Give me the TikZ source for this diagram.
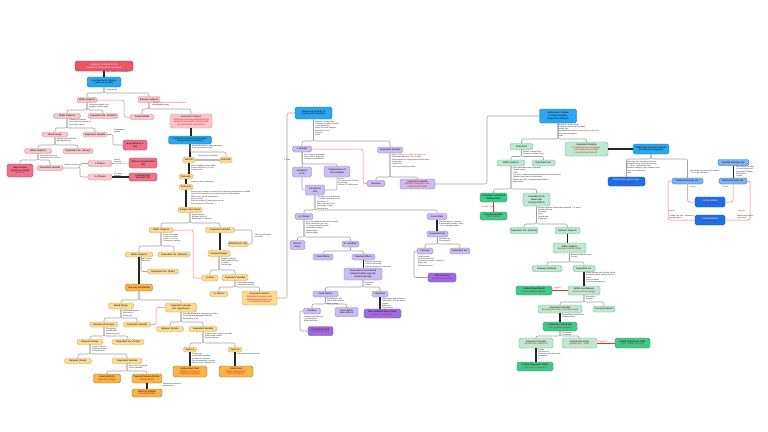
\documentclass[tikz,border=0pt]{standalone}
\usepackage{fontspec}
\setmainfont{Liberation Sans}
\usetikzlibrary{calc}
\definecolor{pkL}{HTML}{F9C6CB}
\definecolor{pkB}{HTML}{C98890}
\definecolor{pkD}{HTML}{F0708A}
\definecolor{rdT}{HTML}{EE5468}
\definecolor{rdB}{HTML}{B03040}
\definecolor{blT}{HTML}{2AA7EE}
\definecolor{blB}{HTML}{1A70B0}
\definecolor{yeL}{HTML}{FDDA92}
\definecolor{yeB}{HTML}{C8A055}
\definecolor{orD}{HTML}{F8B445}
\definecolor{puL}{HTML}{CBBDF2}
\definecolor{puB}{HTML}{8A78C0}
\definecolor{puD}{HTML}{9C6CE8}
\definecolor{grL}{HTML}{BDE9D3}
\definecolor{grB}{HTML}{6AAA88}
\definecolor{grD}{HTML}{3DCB8C}
\definecolor{bsL}{HTML}{82B2F2}
\definecolor{bsD}{HTML}{1C6FEA}
\definecolor{lnC}{HTML}{A0A0A0}
\newcommand\fs{\fontsize{2.3}{2.7}\selectfont}
\newcommand\fa{\fontsize{1.9}{2.3}\selectfont}
\newcommand\rt[1]{\textcolor{red}{#1}}
\tikzset{
 bx/.style={draw, rounded corners=1.6pt, line width=0.45pt, inner sep=0.4pt, align=center, font=\fs, text=black},
 pk/.style={bx, fill=pkL, draw=pkB},
 pkd/.style={bx, fill=pkD, draw=rdB},
 ttl/.style={bx, fill=rdT, draw=rdB, text=white},
 blu/.style={bx, fill=blT, draw=blB},
 ye/.style={bx, fill=yeL, draw=yeB},
 orb/.style={bx, fill=orD, draw=yeB!70!black},
 pu/.style={bx, fill=puL, draw=puB},
 pud/.style={bx, fill=puD, draw=puB!70!black},
 gr/.style={bx, fill=grL, draw=grB},
 grd/.style={bx, fill=grD, draw=grB!70!black},
 bs/.style={bx, fill=bsL, draw=blB},
 bsd/.style={bx, fill=bsD, draw=blB!70!black, text=white},
 conn/.style={draw=lnC, line width=0.55pt, rounded corners=2pt},
 thk/.style={draw=black!85, line width=1.1pt},
 rln/.style={draw=red!55, line width=0.5pt, rounded corners=2pt},
 rthk/.style={draw=red!85, line width=1pt},
 ann/.style={font=\fa, align=left, anchor=north west, inner sep=0pt, text=black!85},
}
\newcommand\B[7]{\node[#6, minimum width=#4pt, minimum height=#5pt] (#1) at (#2,#3) {#7};}
\newcommand\tr[3]{\draw[conn] (#1.south) |- (#2.north |- 0,#3) -- (#2.north);}
\newcommand\tk[2]{\draw[thk] (#1.south) -- (#1.south |- #2.north);}
\newcommand\an[4]{\node[ann] (#1) at (#2,#3) {#4};}
\begin{document}
\begin{tikzpicture}[x=1pt,y=-1pt]
\useasboundingbox[fill=white] (0,0) rectangle (768,431);
% ---------------- PINK ----------------
\B{T}{104}{66}{58}{10}{ttl}{Statistical Analysis for the\\Evaluation of Research Outcomes}
\B{B0}{104}{82}{34}{10}{blu}{Non-Parametric Analysis\\(data not normal)}
\B{P1}{87}{100}{20}{5}{pk}{Within Subjects}
\B{P2}{149}{99.5}{22}{6}{pk}{Between Subjects}
\B{P3}{142}{117}{24}{5}{pk}{Kruskal-Wallis}
\B{P4}{191}{121}{42}{14}{pk}{Parametric Analysis\\\rt{If data are normally distributed and}\\\rt{variances are equal, continue with}\\\rt{the parametric tests below}}
\B{P5}{67}{116}{27}{5}{pk}{Within Subjects}
\B{P6}{103}{116}{30}{5}{pk}{Dependent Var. (Ordinal)}
\B{P7}{55}{134.5}{26}{5}{pk}{Mixed Design}
\B{P8}{95}{134.5}{24}{5}{pk}{Dependent Variable}
\B{P9}{135}{145}{24}{10}{pkd}{Mann-Whitney U\\Test}
\B{P10}{38}{151}{27}{5}{pk}{Within Subjects}
\B{P11}{78}{151}{30}{5}{pk}{Dependent Var. (Binary)}
\B{P12}{20}{170.5}{26}{13}{pkd}{Aligned Rank\\Transform ANOVA\\\rt{(ARTool)}}
\B{P13}{50}{168}{26}{5}{pk}{Dependent Variable}
\B{P14}{100}{163.5}{24}{6}{pk}{2 Phases}
\B{P15}{100}{177}{24}{6}{pk}{3+ Phases}
\B{P16}{143}{163}{28}{10}{pkd}{Wilcoxon Signed-Rank\\Test}
\B{P17}{143}{177}{28}{8}{pkd}{Friedman Test\\(Kendall's W)}
\draw[thk] (T.south) -- (B0.north);
\tr{B0}{P1}{93}\tr{B0}{P2}{93}
\tr{P1}{P5}{110}\tr{P1}{P6}{110}
\tr{P2}{P3}{109}\tr{P2}{P4}{109}
\draw[rln] (P1.east) -- (124,100) |- (P3.west);
\tr{P5}{P7}{128}\tr{P5}{P8}{128}
\draw[conn] (P8.east) -- (113,134.5) |- (P9.west);
\tr{P7}{P10}{145}\tr{P7}{P11}{145}
\tr{P10}{P12}{160}\tr{P10}{P13}{160}
\coordinate (j1) at (80,168);
\draw[conn] (P13.east) -- (j1) |- (P14.west);
\draw[conn] (j1) |- (P15.west);
\draw[conn] (P14.east) -- (P16.west);
\draw[thk] (P15.east) -- (P17.west);
\an{a1}{106}{71}{Non-normal or ordinal data}
\an{a2}{106}{88.5}{Study design}
\an{a3}{89}{103.5}{Same participants in all\\conditions of the study}
\an{a4}{153}{101.8}{\rt{Ordinal data or non-normal distribution}}
\an{a5}{152}{104.2}{Independent groups}
\an{a6}{69}{119}{Compare conditions\\Also check the number of\\levels of the factor}
\an{a7}{114}{128.5}{Independent\\groups}
\an{a8}{57}{137.5}{Design has within and\\between factors}
\an{a9}{40}{154.5}{Repeated measures\\Dependent var. ordinal}
\an{a10}{64}{163.5}{Number of phases}
\an{a11}{114}{158.5}{Paired\\samples}
\an{a12}{114}{172.5}{3 or more\\samples}
% ---------------- ORANGE ----------------
\B{B1}{190}{140}{43}{8}{blu}{Parametric Analysis (normal data,\\homogeneous variances)}
\B{Y1}{189}{160}{12}{6}{ye}{ANOVA}
\B{Y2}{226}{160}{12}{6}{ye}{ANCOVA}
\B{Y3}{186}{176.5}{14}{5}{ye}{Normality}
\B{Y4}{186}{187}{14}{5}{ye}{Sphericity}
\B{Y5}{190}{210}{24}{5}{ye}{Sample Size Check}
\B{Y6}{161}{230}{24}{5}{ye}{Within Subjects}
\B{Y7}{220}{230}{29}{5}{ye}{Dependent Variable}
\B{Y8}{238}{244}{20}{5}{ye}{MANOVA (2+ DV)}
\B{Y9}{219}{253.5}{22}{6}{ye}{Factorial Design}
\B{Y10}{210}{278}{16}{6}{ye}{1 Factor}
\B{Y11}{235}{277.5}{26}{6}{ye}{Dependent Variable}
\B{Y12}{219}{294}{18}{5}{ye}{2+ Factors}
\B{Y13}{259.5}{298}{35}{14}{ye}{Dependent Variable\\\rt{Repeated measures with}\\\rt{unequal group sizes: use}\\\rt{a Linear Mixed Model}}
\B{Y14}{139}{254.5}{28}{5}{ye}{Within Subjects}
\B{Y15}{174}{254.5}{32}{5}{ye}{Dependent Var. (Interval)}
\B{Y16}{139}{287.5}{27}{7}{orb}{One-way RM ANOVA}
\B{Y17}{163}{271.5}{31}{5}{ye}{Dependent Var. (Ratio)}
\B{O1}{121}{306}{25}{6}{ye}{Mixed Design}
\B{O2}{181}{307.5}{31}{9}{ye}{Dependent Variable\\(Alt. Hypothesis)}
\B{O3}{104}{324.5}{28}{5}{ye}{Between (2 Groups)}
\B{O4}{137}{324.5}{27}{5}{ye}{Dependent Variable}
\B{O5}{90}{342}{26}{5}{ye}{Between Groups}
\B{O6}{128}{342}{32}{5}{ye}{Dependent Var. (Scale)}
\B{O7}{78}{361}{27}{5}{ye}{Between (Scale)}
\B{O8}{127}{361}{30}{5}{ye}{Dependent Variable}
\B{O9}{107}{378.5}{27}{9}{orb}{Mixed ANOVA\\\rt{(split-plot design)}}
\B{O10}{147}{378.5}{30}{9}{orb}{Nested/Crossed ANOVA\\\rt{(hierarchical)}}
\B{O11}{147}{393}{30}{8}{orb}{Split-Plot ANOVA\\\rt{(repeated factor)}}
\B{O12}{170}{329}{27}{5}{ye}{Between (Scale)}
\B{O13}{203}{329}{28}{5}{ye}{Dependent Variable}
\B{O14}{190}{349.5}{13}{5}{ye}{Option A}
\B{O15}{235}{349.5}{14}{5}{ye}{Option B}
\B{O16}{190}{371.5}{34}{11}{orb}{Independent t-test\\\rt{(Welch correction if}\\\rt{variances unequal)}}
\B{O17}{236}{371.5}{34}{11}{orb}{Paired t-test\\\rt{(same participants,}\\\rt{two conditions)}}
% ---------------- PURPLE NODES ----------------
\B{B2}{313.5}{113}{37}{12}{blu}{Categorical Analysis of\\Counts and Proportions}
\B{U1}{302}{149}{19}{6}{pu}{1 Variable}
\B{U2}{390}{150}{25}{6}{pu}{Dependent Variable}
\B{U3}{302}{172}{19}{10}{pu}{Goodness\\of Fit}
\B{U4}{337}{171.5}{26}{11}{pu}{Independence of\\Two Variables}
\B{U5}{376}{183.5}{18}{6}{pu}{Binomial}
\B{U7}{417.5}{184}{35}{10}{pu}{Dependent Variable\\\rt{Multiple categories: see}\\\rt{multinomial models}}
\B{U6}{315}{190}{19}{10}{pu}{Chi-Square\\Test}
\B{W1}{304}{216.5}{18}{6}{pu}{2+ Phases}
\B{W2}{437}{216.5}{20}{6}{pu}{Paired Data}
\B{W3}{297.5}{245}{15}{9}{pu}{Fisher's\\Exact}
\B{W4}{350.5}{244}{17}{6}{pu}{2+ Variables}
\B{W5}{323}{257}{20}{6}{pu}{Fixed Effects}
\B{W6}{363.5}{257}{23}{6}{pu}{Random Effects}
\B{W7}{363}{274}{38}{12}{pu}{Generalized Linear Mixed\\Model (GLMM), logit link\\random intercept}
\B{W8}{325.5}{294}{25}{6}{pu}{Fixed Factors}
\B{W9}{380}{294}{16}{6}{pu}{Interaction}
\B{W10}{312}{311}{17}{6}{pu}{Random}
\B{W11}{346.5}{312}{23}{9}{pu}{Fixed effects\\(main effects)}
\B{W12}{382.5}{313.5}{37}{9}{pud}{Max Likelihood Binary Regr.\\\rt{(logistic regression)}}
\B{W13}{320.5}{331}{25}{9}{pud}{Cochran's Q Test\\\rt{(repeated binary)}}
\B{W14}{437.5}{234}{21}{6}{pu}{Dependent Var.}
\B{W15}{425}{251}{16}{6}{pu}{2 Groups}
\B{W16}{460}{251}{20}{6}{pu}{Dependent Var.}
\B{W17}{442}{277.5}{28}{9}{pud}{McNemar Test\\\rt{(paired proportions)}}
% ---------------- GREEN NODES ----------------
\B{B3}{558}{116}{37}{14}{blu}{Multinomial / Ordinal\\Outcome Analysis\\(Regression Models)}
\B{G1}{521.5}{146.5}{23}{6}{gr}{Ordinal DV}
\B{G2}{586.5}{149}{43}{14}{gr}{Dependent Variable\\\rt{If categories are unordered,}\\\rt{use multinomial models}\\\rt{(see the blue branch)}}
\B{G3}{511}{163}{28}{6}{gr}{Within Subjects}
\B{G4}{543.5}{163}{23}{6}{gr}{Dependent Var.}
\B{G5}{493.5}{197.5}{27}{9}{grd}{Cumulative Link Mixed\\Model (clmm)}
\B{G7}{493.5}{216}{27}{8}{grd}{Proportional Odds\\\rt{(polr, MASS)}}
\B{G6}{536.5}{199.5}{27}{13}{gr}{Cumulative Link\\Model with\\Random Effects}
\B{G8}{524}{230.5}{28}{6}{gr}{Dependent Var. (Ordinal)}
\B{G9}{567.5}{230.5}{25}{6}{gr}{Between Subjects}
\B{G10}{569.5}{248}{33}{10}{gr}{Within Subjects\\\rt{repeated ordinal ratings}}
\B{G11}{547}{268.5}{30}{6}{gr}{Between (Ordinal)}
\B{G12}{584}{268.5}{22}{6}{gr}{Dependent Var.}
\B{G13}{584}{290.5}{32}{9}{gr}{Within and Between\\\rt{(mixed ordinal design)}}
\B{G14}{534}{290.5}{36}{9}{grd}{Ordinal Mixed Model\\\rt{(clmm, random slopes)}}
\B{G15}{560}{309}{44}{8}{gr}{Dependent Variable\\\rt{(proportional odds assumption met)}}
\B{G16}{604}{309}{22}{6}{gr}{Non-proportional}
\B{G17}{560}{326.5}{34}{9}{grd}{Cumulative Link Model\\\rt{(clm, ordinal package)}}
\B{G18}{536}{343}{34}{10}{gr}{Dependent Variable\\\rt{(continuous predictors)}}
\B{G19}{579.5}{343}{35}{10}{gr}{Generalized Model\\\rt{(partial prop. odds)}}
\B{G20}{632.5}{343}{35}{10}{grd}{Partial Proportional Odds\\\rt{(vglm, VGAM package)}}
\B{G21}{535}{366.5}{36}{9}{grd}{Ordinal Regression Model\\\rt{(polr with covariates)}}
% ---------------- BLUE NODES ----------------
\B{B4}{651}{149}{36}{10}{blu}{Multinomial Outcome Analysis\\(Unordered Categories)}
\B{D1}{626.5}{181.5}{37}{9}{bsd}{Multinomial Logistic Regr.\\\rt{(nnet::multinom)}}
\B{D2}{687.5}{181}{31}{6}{bs}{Cardinal Outcome Var.}
\B{D3}{733.5}{162.5}{31}{6}{bs}{Nominal Outcome Var.}
\B{D4}{733}{181}{28}{6}{bs}{Ordinal Outcome Var.}
\B{D5}{710}{202}{30}{10}{bsd}{Ordinal Model\\\rt{(ordered logit)}}
\B{D6}{710}{220}{30}{10}{bsd}{Nominal Model\\\rt{(baseline logit)}}
% ---------------- ORANGE EDGES ----------------
\tk{P4}{B1}
\tk{B1}{Y1}
\draw[conn] (B1.south) |- (Y2.north |- 0,152) -- (Y2.north);
\draw[line width=2pt, draw=gray!55] (Y1.east) -- (Y2.west);
\tk{Y1}{Y3}\tk{Y3}{Y4}\tk{Y4}{Y5}
\tr{Y5}{Y6}{223}\tr{Y5}{Y7}{223}
\draw[conn] (Y7.east) -- (252,230) |- (Y8.east);
\tk{Y7}{Y9}
\tr{Y9}{Y10}{270}\tr{Y9}{Y11}{270}
\tr{Y11}{Y12}{287}\tr{Y11}{Y13}{287}
\draw[conn] (Y13.east) -- (287,298) |- (B2.west);
\tr{Y6}{Y14}{246}\tr{Y6}{Y15}{246}
\draw[rln] (Y6.east) -- (193,230) |- (Y10.west);
\tk{Y14}{Y16}
\draw[conn] ([xshift=2pt]Y14.south) |- (Y17.west);
\tr{Y16}{O1}{300}\tr{Y16}{O2}{300}
\tr{O1}{O3}{318}\tr{O1}{O4}{318}
\draw[rln] (O4.east) -- (156,324.5) |- (O2.west);
\tr{O3}{O5}{336}\tr{O3}{O6}{336}
\tr{O5}{O7}{354}\tr{O5}{O8}{354}
\tr{O8}{O9}{371}\tr{O8}{O10}{371}
\tk{O10}{O11}
\tr{O2}{O12}{322}\tr{O2}{O13}{322}
\tr{O13}{O14}{343}\tr{O13}{O15}{343}
\tk{O14}{O16}\tk{O15}{O17}
\an{b1}{192}{145}{Normal distribution, equal variances\\Check assumptions first}
\an{b2}{198}{155.3}{one or more covariates}
\an{b3}{191}{164.5}{Check residuals of the model\\Shapiro-Wilk test, Q-Q plot\\Levene's test}
\an{b4}{191}{180.5}{Mauchly's test of sphericity}
\an{b5}{191}{191}{Greenhouse-Geisser correction if the sphericity assumption is violated\\Huynh-Feldt correction as an alternative for mild violations\\Effect sizes: partial eta squared\\Post hoc tests\\Plan for at least 20 participants per cell\\Power analysis (G*Power)}
\an{b6}{192}{213.5}{Small samples\\Between factor(s)\\Mixed factors in design}
\an{b7}{163}{233.5}{Same participants\\in every condition\\Levels: 2 or more\\Continuous outcome}
\an{b8}{255}{234}{Test of multivariate\\normality}
\an{b9}{221}{257.5}{Between subjects\\Independent groups\\2+ levels\\Normal data}
\an{b10}{237}{281.5}{Independent groups\\Unequal group sizes}
\an{b11}{141}{258}{Within factor\\Two levels}
\an{b12}{123}{310}{Within and between\\Both factors\\Equal cells}
\an{b13}{183}{313}{Normally distributed, homogeneous data\\Repeated and independent factors\\Equal group sizes}
\an{b14}{106}{328}{Two groups\\Normal data\\Equal variances}
\an{b15}{92}{345.5}{Large N, normal\\Equal group sizes\\Continuous DV}
\an{b16}{129}{364.5}{More factors (nested)\\Cross classified}
\an{b17}{163}{383}{Repeated measure in\\nested factor}
\an{b18}{205}{332.5}{Sample sizes: equal or unequal\\Both groups normal\\Equal variances}
\an{b19}{192}{353}{Two groups\\Independent samples\\Continuous outcome\\Test homogeneity (Levene)\\Welch test for unequal var.}
\an{b20}{237}{352.5}{Two paired measurements}
% ---------------- PURPLE EDGES ----------------
\tr{B2}{U1}{141}\tr{B2}{U2}{141}
\draw[rln] (U1.east) -- (363,149) |- (U5.west);
\tr{U1}{U3}{164}\tr{U1}{U4}{164}
\draw[conn] (U3.south) |- (U6.west);
\draw[conn] (U4.south) |- (U6.east);
\tr{U2}{U5}{177}\tr{U2}{U7}{177}
\draw[conn] (U7.east) -- (487,184) |- (B3.west);
\tr{U6}{W1}{210}\tr{U6}{W2}{210}
\tr{W1}{W3}{237}\tr{W1}{W4}{237}
\tr{W4}{W5}{251}\tr{W4}{W6}{251}
\tk{W6}{W7}
\tr{W7}{W8}{287}\tr{W7}{W9}{287}
\tr{W8}{W10}{304}\tr{W8}{W11}{304}
\tk{W9}{W12}
\draw[conn] (W10.west) -- (300,311) |- (W13.west);
\tk{W2}{W14}
\tr{W14}{W15}{244}\tr{W14}{W16}{244}
\draw[conn] (W15.west) -- (414,251) |- (W17.west);
\an{c1}{315}{120.5}{Nominal or binary data\\Contingency tables (counts)\\ - cell frequencies\\Fisher for small samples\\Expected counts\\Cell size\\Totals}
\an{c2}{304}{153.5}{One categorical variable\\Observed vs. expected\\Compare to distribution}
\an{c3}{284}{158.5}{2 Trials}
\an{c4}{392}{154}{\rt{High cell counts: use the chi-square test}\\Expected frequency > 5 in all cells\\Observations are independent of each other\\Count data\\Totals fixed\\Two-way contingency table}
\an{c5}{338}{177.5}{Group\\Chi-square test of indep.\\Same total\\Cramer's V (effect size)}
\an{c6}{317}{196}{Chi-square test (goodness)\\ - compare observed counts\\Cell sizes > 5\\Effect size: phi (2x2)\\Alternative: G-test\\Binomial test}
\an{c7}{306}{220.5}{Each participant measured (repeated)\\Binary outcome (yes / no)\\ - 2 or more measurements\\Dependent samples\\Small sample\\Matched pairs}
\an{c8}{439}{220.5}{Matched pairs or repeated\\measurement (before / after)\\ - 2x2 contingency table}
\an{c9}{439}{238}{Paired binary\\Dichotomous}
\an{c10}{418}{255.5}{Small sample\\Exact binomial test\\Continuity correction (Yates) or\\Mid-p test\\McNemar (exact)}
\an{c11}{365}{261}{Random intercepts\\Logit link (binomial)\\Random slopes per participant}
\an{c12}{365}{281.5}{Estimation\\Laplace}
\an{c13}{327}{298}{Fixed factors only\\Within and between\\Effect coding}
\an{c14}{382}{298}{Main effects and interaction\\Odds ratios (OR) per factor\\Logistic\\Wald tests\\Fixed slopes}
\an{c15}{304}{315.5}{Random intercept only\\ - by participant\\Binary outcome}
% ---------------- GREEN EDGES ----------------
\tr{B3}{G1}{139}\tr{B3}{G2}{139}
\draw[thk] (G2.east) -- (B4.west);
\tr{G1}{G3}{156.5}\tr{G1}{G4}{156.5}
\tr{G3}{G5}{189}\tr{G3}{G6}{189}
\draw[rthk] (G5.south) -- (G5.south |- G7.north);
\tr{G6}{G8}{224}\tr{G6}{G9}{224}
\tk{G9}{G10}
\tr{G10}{G11}{262}\tr{G10}{G12}{262}
\tk{G12}{G13}
\draw[rthk] (G13.west) -- (G14.east);
\tr{G13}{G15}{302}\tr{G13}{G16}{302}
\tk{G15}{G17}
\tr{G17}{G18}{336}\tr{G17}{G19}{336}
\draw[rthk] (G19.east) -- (G20.west);
\tk{G18}{G21}
\an{d1}{558}{123.5}{Ordinal DV (Likert scale)\\Cumulative link models (ordinal)\\Ordinal logit\\Ordered thresholds \rt{Not applicable to multinomial}\\Check the assumption\\Probit}
\an{d2}{523}{150.5}{Multiple ordinal levels\\Proportional odds check}
\an{d3}{513}{167}{Each participant rates (repeated)\\Ordinal ratings\\Likert\\2 or more conditions (repeated measures of participants)\\Random intercepts for participants\\Ratings by items: crossed random effects\\Many levels}
\an{d4}{538}{206.5}{Between groups (independent samples, 2 or more)\\Ordinal outcome\\Cell sizes\\Likert\\Ordinal data\\Categories}
\an{d5}{482}{205.5}{\rt{Double T-test}}
\an{d6}{571}{254}{Between-subjects factor\\Groups}
\an{d7}{586}{272}{Mixed designs with random effects\\Repeated ordinal ratings of items\\Level\\Also covariates\\Post-hoc comparisons}
\an{d8}{554}{286.5}{\rt{Small N}}
\an{d9}{586}{296}{Interaction\\Between}
\an{d10}{562}{314}{Scale effects and the links\\Nominal effects}
\an{d11}{562}{331.5}{Continuous\\Covariates}
\an{d12}{538}{348.5}{Ordinal\\Link function\\Likelihood ratio test for the\\assumption\\Fit}
\an{d13}{598}{340.5}{\rt{Partial P.O.}}
% ---------------- BLUE EDGES ----------------
\tr{B4}{D1}{159}\tr{B4}{D2}{159}
\tk{D3}{D4}
\draw[rln] (D2.south) |- (D5.west);
\draw[rln] (D4.south) |- (D5.east);
\draw[rln] (D2.west) -- (668,181) |- (D6.west);
\draw[rln] (D4.east) -- (750,181) |- (D6.east);
\an{e1}{627}{160.5}{More than two unordered outcome\\categories (e.g. preference among\\3+ items) - Multinomial logit\\Baseline category logit: compare each\\class to the reference\\Nnet}
\an{e2}{690}{170}{Alternating outcomes with cardinal\\ - 3 or more outcomes}
\an{e3}{736}{166}{One (binary) variable\\Or more categorical\\Dependent variable\\Multinomial\\Logistic}
\an{e4}{689}{186}{\rt{2 levels}}
\an{e5}{722}{186}{\rt{3 levels}}
\an{e6}{668}{210}{\rt{Nominal}}
\an{e7}{738}{210}{\rt{Nominal}}
\an{e8}{669}{214.5}{Coding (one hot) - Reference\\category given}
\an{e9}{737}{214.5}{Multinomial logistic\\regression}
\end{tikzpicture}
\end{document}
